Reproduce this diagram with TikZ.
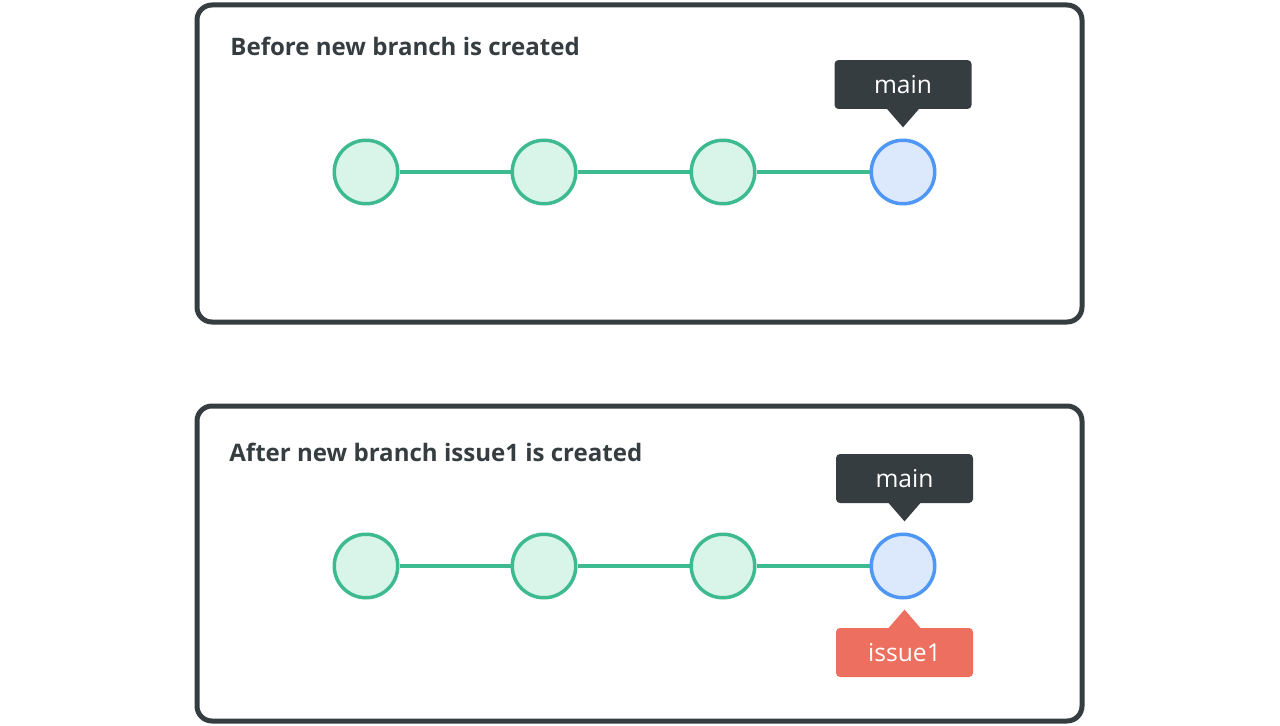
\documentclass[tikz,border=0pt]{standalone}
\usepackage{fontspec}
\setmainfont{Open Sans}
\usetikzlibrary{calc}
\definecolor{dark}{HTML}{363D40}
\definecolor{grn}{HTML}{3DBA8F}
\definecolor{grnfill}{HTML}{D9F5EA}
\definecolor{blu}{HTML}{4F97F5}
\definecolor{blufill}{HTML}{DCE9FC}
\definecolor{red}{HTML}{EC6F5F}
\begin{document}
\begin{tikzpicture}[x=0.02cm,y=-0.02cm,
  frame/.style={draw=dark,line width=0.1cm,rounded corners=0.3cm},
  title/.style={anchor=base west,inner sep=0pt,text=dark,font=\fontsize{13.7pt}{16pt}\selectfont\bfseries},
  commit/.style={circle,draw=grn,fill=grnfill,line width=0.07cm,minimum size=1.27cm,inner sep=0pt},
  head/.style={commit,draw=blu,fill=blufill},
  edge/.style={draw=grn,line width=0.08cm},
  tag/.style={rounded corners=0.08cm,minimum width=2.74cm,minimum height=0.98cm,inner sep=0pt,text=white,font=\fontsize{14pt}{16pt}\selectfont},
  tagmain/.style={tag,fill=dark},
  tagissue/.style={tag,fill=red}]
\useasboundingbox (0,0) rectangle (1280,726);
\fill[white] (0,0) rectangle (1280,726);
% top panel
\draw[frame] (197,5) rectangle (1082,322);
\node[title] (t1) at (230,56) {Before new branch is created};
\node[commit] (a1) at (366,172) {};
\node[commit] (a2) at (544,172) {};
\node[commit] (a3) at (723,172) {};
\node[head] (a4) at (903,172) {};
\draw[edge] (a1) -- (a2);
\draw[edge] (a2) -- (a3);
\draw[edge] (a3) -- (a4);
\node[tagmain] (m1) at (903,84.5) {main};
\fill[dark] ($(m1.south)+(-16.5,-1)$) -- ($(m1.south)+(16.5,-1)$) -- ($(m1.south)+(0,18)$) -- cycle;
% bottom panel
\draw[frame] (197,406) rectangle (1082,721);
\node[title] (t2) at (229,461) {After new branch issue1 is created};
\node[commit] (b1) at (366,566) {};
\node[commit] (b2) at (544,566) {};
\node[commit] (b3) at (723,566) {};
\node[head] (b4) at (903,566) {};
\draw[edge] (b1) -- (b2);
\draw[edge] (b2) -- (b3);
\draw[edge] (b3) -- (b4);
\node[tagmain] (m2) at (904.5,478.5) {main};
\fill[dark] ($(m2.south)+(-16.5,-1)$) -- ($(m2.south)+(16.5,-1)$) -- ($(m2.south)+(0,18)$) -- cycle;
\node[tagissue] (i2) at (904.5,652.5) {issue1};
\fill[red] ($(i2.north)+(-16.5,1)$) -- ($(i2.north)+(16.5,1)$) -- ($(i2.north)+(0,-18)$) -- cycle;
\end{tikzpicture}
\end{document}
